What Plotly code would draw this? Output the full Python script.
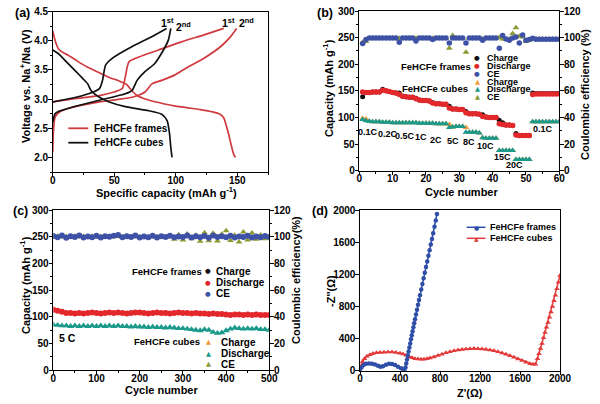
import plotly.graph_objects as go

# ---------------- (a) charge / discharge profiles ----------------
fr_dis_cap = [0, 2, 5, 10, 15, 20, 28, 38, 46, 54, 60, 64, 68, 74, 80, 90, 100, 110, 120, 130, 136, 139, 141, 143, 145, 147, 148.5]
fr_dis_v = [4.17, 4.0, 3.85, 3.78, 3.72, 3.65, 3.55, 3.45, 3.37, 3.31, 3.25, 3.15, 3.07, 3.01, 2.97, 2.92, 2.88, 2.85, 2.82, 2.78, 2.74, 2.68, 2.55, 2.4, 2.22, 2.06, 2.0]
fr_c1_cap = [0, 15, 38, 50, 56.6, 59, 62, 70, 86, 104.6, 123, 139]
fr_c1_v = [2.95, 3.0, 3.06, 3.12, 3.18, 3.38, 3.64, 3.72, 3.84, 3.98, 4.1, 4.21]
fr_c2_cap = [0, 0.6, 1.9, 5, 11, 25, 38, 52, 64.6, 75, 80.6, 88.6, 99, 110, 123, 136.6, 144.6, 149.5]
fr_c2_v = [2.09, 2.45, 2.69, 2.77, 2.83, 2.9, 2.95, 2.99, 3.03, 3.12, 3.26, 3.32, 3.41, 3.55, 3.7, 3.9, 4.07, 4.21]
cu_dis_cap = [0, 4.5, 11, 19, 24.5, 28.5, 31, 38, 46, 59, 78, 88.6, 93, 95, 96, 97]
cu_dis_v = [3.84, 3.78, 3.64, 3.47, 3.35, 3.26, 3.15, 3.03, 2.95, 2.87, 2.8, 2.74, 2.63, 2.4, 2.17, 2.0]
cu_c1_cap = [0, 24.5, 38, 40.5, 43, 48.6, 64.6, 78, 92.6]
cu_c1_v = [2.95, 3.06, 3.18, 3.32, 3.58, 3.7, 3.9, 4.04, 4.21]
cu_c2_cap = [0, 1.9, 5, 11, 25, 38, 50, 59, 64.6, 68.6, 75, 83, 90, 94, 96]
cu_c2_v = [2.6, 2.75, 2.79, 2.83, 2.91, 2.98, 3.04, 3.09, 3.15, 3.32, 3.47, 3.61, 3.84, 4.01, 4.21]

# ---------------- (b) rate capability ----------------
b_cycle = list(range(1, 61))
b_fr_dis = [148, 147, 147, 148, 148, 148,
            151, 150, 149, 147, 146,
            143, 140, 139, 138, 138,
            135, 133, 132, 132, 131,
            127, 126, 126, 125, 125,
            118, 116, 116, 115, 115,
            109, 107, 107, 107, 106,
            102, 101, 100, 100, 100,
            88, 87, 86, 86, 85,
            67, 66, 66, 66, 66,
            143, 144, 144, 144, 144, 144, 144, 144, 144]
b_fr_chg = [139, 147, 147, 148, 148, 148,
            153, 150, 149, 147, 146,
            146, 140, 139, 138, 138,
            136, 133, 132, 132, 131,
            128, 126, 126, 125, 125,
            121, 116, 116, 115, 115,
            111, 107, 107, 107, 106,
            105, 101, 100, 100, 100,
            95, 90, 86, 86, 85,
            70, 66, 66, 66, 66,
            146, 145, 145, 145, 145, 145, 145, 145, 145]
b_cu_dis = [96, 94, 93, 92, 92, 92,
            91, 91, 91, 90, 90,
            90, 90, 90, 90, 90,
            90, 89, 89, 89, 89,
            89, 88, 88, 88, 88,
            81, 82, 83, 83, 83,
            72, 72, 72, 72, 71,
            62, 61, 61, 61, 61,
            38, 38, 38, 38, 38,
            21, 21, 21, 21, 21,
            92, 92, 92, 92, 92, 92, 92, 92, 92]
b_cu_chg = [98, 97, 93, 92, 92, 92,
            91, 91, 91, 90, 90,
            90, 90, 90, 90, 90,
            90, 89, 89, 89, 89,
            89, 88, 88, 88, 88,
            87, 82, 83, 83, 83,
            81, 72, 72, 72, 71,
            62, 61, 61, 61, 61,
            38, 38, 38, 38, 38,
            21, 21, 21, 21, 21,
            92, 92, 92, 92, 92, 92, 92, 92, 92]
b_fr_ce = [95.5, 98.5, 99.8, 99.8, 99.8, 99.8, 99.8, 99.8, 99.8, 99.8,
           99.8, 96.5, 99.8, 99.8, 99.8, 99.8, 97.5, 99.8, 99.8, 99.8,
           99.8, 98.5, 99.8, 99.8, 99.8, 99.8, 96.0, 99.8, 99.8, 99.8,
           99.8, 96.0, 99.8, 99.8, 99.8, 99.8, 98.0, 99.8, 99.8, 99.8,
           99.8, 92.0, 101.5, 99.0, 98.0, 99.8, 100.5, 96.0, 102.0, 98.0,
           98.5, 99.5, 98.8, 98.8, 98.8, 98.8, 98.8, 98.8, 98.8, 98.8]
b_cu_ce = [96.5, 97.0, 99.6, 99.6, 99.6, 99.6, 99.6, 99.6, 99.6, 99.6,
           99.6, 99.6, 99.6, 99.6, 99.6, 99.6, 99.6, 99.6, 99.6, 99.6,
           99.6, 99.6, 99.6, 99.6, 99.6, 99.6, 92.0, 101.5, 99.6, 99.6,
           99.6, 89.0, 99.6, 99.6, 99.6, 99.6, 99.0, 99.6, 99.6, 99.6,
           99.6, 100.0, 99.0, 98.5, 99.0, 103.0, 107.5, 101.0, 100.5, 97.0,
           98.0, 99.0, 99.0, 99.0, 99.0, 99.0, 99.0, 99.0, 99.0, 99.0]
rate_labels = ["0.1C", "0.2C", "0.5C", "1C", "2C", "5C", "8C", "10C", "15C", "20C", "0.1C"]
rate_x = [2.6, 8.7, 13.7, 18.4, 23, 28, 33, 38, 43, 46.5, 55.2]
rate_y = [73, 69, 66, 63, 58, 56, 53, 47, 26, 10, 78]

# ---------------- (c) long cycling at 5 C ----------------
c_cycle = list(range(0, 501, 10))
c_fr_dis = [113, 111, 109, 107, 107, 106, 107, 106, 107, 108,
            107, 106, 107, 108, 107, 108, 107, 106, 107, 108,
            108, 107, 106, 107, 108, 107, 107, 106, 107, 108,
            107, 107, 106, 107, 106, 106, 105, 106, 105, 105,
            104, 103, 104, 104, 103, 104, 103, 104, 103, 103,
            103]
c_cu_dis = [85, 84, 83, 83, 82, 83, 82, 83, 82, 83,
            82, 83, 82, 83, 82, 83, 82, 82, 81, 82,
            81, 81, 80, 81, 80, 80, 79, 80, 79, 78,
            78, 77, 76, 75, 74, 76, 75, 71, 69, 70,
            74, 77, 79, 78, 77, 78, 77, 78, 76, 76,
            75]
c_fr_ce = [100.5, 99.5, 100.8, 99.2, 100.3, 99.8, 100.9, 99.4, 100.2, 99.6,
           100.7, 99.3, 100.4, 99.9, 100.6, 101.2, 99.5, 100.3, 99.7, 100.8,
           99.4, 100.1, 99.6, 100.7, 99.3, 100.4, 99.8, 100.6, 99.5, 100.2,
           99.7, 100.9, 99.4, 100.3, 99.6, 100.5, 99.2, 100.8, 99.7, 100.4,
           99.5, 100.6, 99.3, 100.2, 99.8, 100.7, 99.4, 100.1, 99.6, 100.5,
           99.8]
c_cu_ce = [99.5, 100.3, 99.8, 100.1, 99.6, 100.4, 99.9, 100.2, 99.7, 100.3,
           99.8, 100.1, 99.6, 100.4, 99.9, 100.2, 99.5, 100.3, 99.8, 100.1,
           99.7, 100.2, 99.6, 100.4, 99.9, 100.0, 99.4, 100.6,
           98.0, 101.5, 97.5, 102.0, 98.5, 101.0, 96.5, 103.0, 97.0, 102.5,
           96.8, 101.8, 104.5, 97.2, 101.0, 96.0, 103.5, 97.5, 102.8, 98.0,
           101.2, 98.5, 99.5]

# ---------------- (d) Nyquist plots ----------------
d_fr_re = [0, 15, 35, 60, 90, 120, 150, 180, 205, 230, 260, 290, 320, 350, 380, 410, 430, 445, 455,
           462, 470, 478, 486, 494, 502, 510, 518, 526, 534, 542, 550, 560, 570, 580, 590, 600, 612,
           624, 636, 648, 660, 672, 684, 696, 708, 720, 732, 745, 758, 770]
d_fr_im = [0, 40, 70, 85, 90, 88, 78, 62, 50, 55, 75, 85, 82, 70, 50, 30, 15, 8, 40,
           90, 140, 190, 240, 290, 340, 390, 440, 490, 540, 590, 640, 700, 760, 820, 880, 940, 1010,
           1080, 1150, 1220, 1290, 1360, 1430, 1500, 1570, 1640, 1710, 1790, 1870, 1950]
d_cu_re = [0, 10, 25, 45, 70, 100, 130, 165, 200, 240, 280, 320, 360, 400, 430, 460, 490, 520, 550,
           580, 610, 640, 670, 700, 740, 780, 820, 860, 900, 940, 980, 1020, 1060, 1100, 1140, 1180,
           1220, 1260, 1300, 1340, 1380, 1420, 1460, 1500, 1540, 1580, 1620, 1660, 1700, 1730, 1755,
           1775, 1790, 1805, 1820, 1835, 1850, 1865, 1880, 1895, 1910, 1925, 1940, 1955, 1970, 1985, 2000]
d_cu_im = [0, 60, 110, 150, 180, 200, 213, 222, 228, 231, 233, 232, 228, 218, 207, 192, 175, 160, 150,
           145, 141, 142, 148, 158, 172, 190, 206, 222, 236, 248, 258, 265, 270, 273, 275, 274,
           271, 266, 258, 248, 236, 221, 204, 186, 166, 146, 126, 106, 88, 80, 80,
           150, 210, 275, 340, 410, 475, 540, 600, 665, 730, 800, 870, 940, 1020, 1100, 1185]

# ---------------- styling ----------------
FONT = "Liberation Sans"
SYM = "DejaVu Sans"
RED_A = "#cf3a3f"
BLACK = "#111111"
RED = "#e3282c"
BLUE = "#3d52a6"
ORANGE = "#f29a3a"
TEAL = "#1b9a8c"
OLIVE = "#8a9a33"
D_BLUE = "#2f4ea8"
D_RED = "#e33a3a"

W, H = 600, 404
def px(x):
    return x / W
def py(y):
    return 1 - y / H

fig = go.Figure()

# (a)
for cx, cy, col in [(fr_dis_cap, fr_dis_v, RED_A), (fr_c1_cap, fr_c1_v, RED_A), (fr_c2_cap, fr_c2_v, RED_A),
                    (cu_dis_cap, cu_dis_v, BLACK), (cu_c1_cap, cu_c1_v, BLACK), (cu_c2_cap, cu_c2_v, BLACK)]:
    fig.add_trace(go.Scatter(x=cx, y=cy, mode="lines", line=dict(color=col, width=1.7, shape="spline", smoothing=0.6),
                             xaxis="x", yaxis="y", showlegend=False, hoverinfo="skip"))

# (b)
fig.add_trace(go.Scatter(x=b_cycle, y=b_fr_chg, mode="markers", marker=dict(color=BLACK, size=5), xaxis="x2", yaxis="y2", showlegend=False))
fig.add_trace(go.Scatter(x=b_cycle, y=b_fr_dis, mode="markers", marker=dict(color=RED, size=5.5), xaxis="x2", yaxis="y2", showlegend=False))
fig.add_trace(go.Scatter(x=b_cycle, y=b_cu_chg, mode="markers", marker=dict(color=ORANGE, size=6, symbol="triangle-up"), xaxis="x2", yaxis="y2", showlegend=False))
fig.add_trace(go.Scatter(x=b_cycle, y=b_cu_dis, mode="markers", marker=dict(color=TEAL, size=6, symbol="triangle-up"), xaxis="x2", yaxis="y2", showlegend=False))
fig.add_trace(go.Scatter(x=b_cycle, y=b_cu_ce, mode="markers", marker=dict(color=OLIVE, size=6, symbol="triangle-up"), xaxis="x2", yaxis="y3", showlegend=False))
fig.add_trace(go.Scatter(x=b_cycle, y=b_fr_ce, mode="markers", marker=dict(color=BLUE, size=5.5), xaxis="x2", yaxis="y3", showlegend=False))

# (c)
fig.add_trace(go.Scatter(x=c_cycle, y=c_fr_dis, mode="markers", marker=dict(color=RED, size=6), xaxis="x3", yaxis="y4", showlegend=False))
fig.add_trace(go.Scatter(x=c_cycle, y=c_cu_dis, mode="markers", marker=dict(color=TEAL, size=6.5, symbol="triangle-up"), xaxis="x3", yaxis="y4", showlegend=False))
fig.add_trace(go.Scatter(x=c_cycle, y=c_cu_ce, mode="markers", marker=dict(color=OLIVE, size=6, symbol="triangle-up"), xaxis="x3", yaxis="y5", showlegend=False))
fig.add_trace(go.Scatter(x=c_cycle, y=c_fr_ce, mode="markers", marker=dict(color=BLUE, size=6), xaxis="x3", yaxis="y5", showlegend=False))

# (d)
fig.add_trace(go.Scatter(x=d_cu_re, y=d_cu_im, mode="lines+markers", line=dict(color=D_RED, width=1.5),
                         marker=dict(color=D_RED, size=5, symbol="triangle-up"), xaxis="x4", yaxis="y6", showlegend=False))
fig.add_trace(go.Scatter(x=d_fr_re, y=d_fr_im, mode="lines+markers", line=dict(color=D_BLUE, width=1.5),
                         marker=dict(color=D_BLUE, size=4.5), xaxis="x4", yaxis="y6", showlegend=False))

TICKF = dict(family=FONT, size=10, color="black", weight="bold")

def ax(**kw):
    d = dict(showline=True, linecolor="black", linewidth=1.2, ticks="outside", ticklen=3.5, tickwidth=1.1,
             tickcolor="black", showgrid=False, zeroline=False, automargin=False, tickfont=TICKF,
             fixedrange=True)
    d.update(kw)
    return d

def xax(**kw):
    return ax(ticklabelstandoff=-5, **kw)

def yax(**kw):
    return ax(ticklabelstandoff=-2, **kw)

def minor(dt):
    return dict(ticks="outside", ticklen=2, tickwidth=1, tickcolor="black", dtick=dt, showgrid=False)

fig.update_layout(
    width=W, height=H, margin=dict(l=0, r=0, t=0, b=0),
    paper_bgcolor="white", plot_bgcolor="white",
    font=dict(family=FONT, size=10, color="black", weight="bold"),
    showlegend=False,
    xaxis=xax(domain=[px(52.7), px(268)], anchor="y", range=[0, 175], tickvals=[0, 50, 100, 150], minor=minor(25), mirror=True),
    yaxis=yax(domain=[py(172), py(11.5)], anchor="x", range=[1.75, 4.5], tickvals=[2.0, 2.5, 3.0, 3.5, 4.0, 4.5],
              tickformat=".1f", minor=minor(0.25), mirror=True),
    xaxis2=xax(domain=[px(359.3), px(559.3)], anchor="y2", range=[0, 60], dtick=10, minor=minor(5), mirror=True),
    yaxis2=yax(domain=[py(170.7), py(11)], anchor="x2", range=[0, 300], dtick=50, minor=minor(25)),
    yaxis3=yax(overlaying="y2", anchor="x2", side="right", range=[0, 120], dtick=20, minor=minor(10)),
    xaxis3=xax(domain=[px(53.3), px(269.3)], anchor="y4", range=[0, 500], dtick=100, minor=minor(50), mirror=True),
    yaxis4=yax(domain=[py(370), py(210)], anchor="x3", range=[0, 300], dtick=50, minor=minor(25)),
    yaxis5=yax(overlaying="y4", anchor="x3", side="right", range=[0, 120], dtick=20, minor=minor(10)),
    xaxis4=xax(domain=[px(360), px(560)], anchor="y6", range=[0, 2000], tickvals=[0, 400, 800, 1200, 1600, 2000], mirror=True),
    yaxis6=yax(domain=[py(370.7), py(210)], anchor="x4", range=[0, 2000], tickvals=[0, 400, 800, 1200, 1600, 2000], mirror=True),
)

ann = []
def txt(x, y, s, size=11, xanchor="center", angle=0, color="black", family=FONT):
    ann.append(dict(x=px(x), y=py(y), xref="paper", yref="paper", text=s, showarrow=False, xanchor=xanchor,
                    yanchor="middle", textangle=angle,
                    font=dict(family=family, size=size, color=color, weight="bold")))

# panel labels
txt(22, 13, "(a)", 12.5)
txt(325, 13, "(b)", 12.5)
txt(20, 211, "(c)", 12.5)
txt(320, 211, "(d)", 12.5)

# axis titles
txt(166, 191.5, "Specific capacity (mAh g<sup>-1</sup>)", 11)
txt(25, 86, "Voltage vs. Na<sup>+</sup>/Na (V)", 11, angle=-90)
txt(461, 191.5, "Cycle number", 11)
txt(328, 88, "Capacity (mAh g<sup>-1</sup>)", 11, angle=-90)
txt(585, 95, "Coulombic efficiency (%)", 11, angle=-90)
txt(161, 389.5, "Cycle number", 11)
txt(25, 285, "Capacity (mAh g<sup>-1</sup>)", 11, angle=-90)
txt(296, 280, "Coulombic efficiency(%)", 11, angle=-90)
txt(470, 392.5, "Z'(Ω)", 11)
txt(331, 291, "-Z''(Ω)", 11, angle=-90)

# (a) cycle labels
for xv, yv, s in [(93.5, 4.31, "1<sup>st</sup>"), (106, 4.25, "2<sup>nd</sup>"),
                  (143, 4.31, "1<sup>st</sup>"), (157.5, 4.31, "2<sup>nd</sup>")]:
    ann.append(dict(x=xv, y=yv, xref="x", yref="y", text=s, showarrow=False,
                    font=dict(family=FONT, size=10.5, color="black", weight="bold")))

# (a) legend
shapes = []
def hline(x0, x1, y, col, w=1.8):
    shapes.append(dict(type="line", xref="paper", yref="paper", x0=px(x0), x1=px(x1), y0=py(y), y1=py(y),
                       line=dict(color=col, width=w)))
hline(68.3, 88.3, 128.3, RED_A)
hline(68.3, 88.3, 142.7, BLACK)
txt(91.7, 128.3, "FeHCFe frames", 10, xanchor="left")
txt(91.7, 142.7, "FeHCFe cubes", 10, xanchor="left")

# (b) rate labels
for s, xv, yv in zip(rate_labels, rate_x, rate_y):
    ann.append(dict(x=xv, y=yv, xref="x2", yref="y2", text=s, showarrow=False,
                    font=dict(family=FONT, size=9, color="black", weight="bold")))

# (b) legend
b_rows = [(57.5, "●", BLACK, "Charge"), (65.5, "●", RED, "Discharge"), (73.5, "●", BLUE, "CE"),
          (81.5, "▲", ORANGE, "Charge"), (89.5, "▲", TEAL, "Discharge"), (97, "▲", OLIVE, "CE")]
for yv, sym, col, lab in b_rows:
    txt(477, yv, sym, 6.5, color=col, family=SYM)
    txt(484.5, yv, lab, 9, xanchor="left")
txt(473, 66, "FeHCFe frames", 9.5, xanchor="right")
txt(470, 89, "FeHCFe cubes", 9.5, xanchor="right")

# (c) legend
c_rows_f = [(271, BLACK, "Charge"), (282.5, RED, "Discharge"), (293.5, BLUE, "CE")]
for yv, col, lab in c_rows_f:
    txt(207.5, yv, "●", 6.5, color=col, family=SYM)
    txt(214.3, yv, lab, 10, xanchor="left")
txt(130, 271, "FeHCFe frames", 9.5, xanchor="left")
c_rows_c = [(342, ORANGE, "Charge"), (353.5, TEAL, "Discharge"), (364, OLIVE, "CE")]
for yv, col, lab in c_rows_c:
    txt(208.5, yv, "▲", 6.5, color=col, family=SYM)
    txt(219, yv, lab, 10, xanchor="left")
txt(131.5, 341, "FeHCFe cubes", 9.5, xanchor="left")
txt(67, 337.5, "5 C", 10.5)

# (d) legend
hline(466.7, 485.5, 227.3, D_BLUE, 1.5)
hline(466.7, 485.5, 238.3, D_RED, 1.5)
txt(476, 227.3, "●", 6, color=D_BLUE, family=SYM)
txt(476, 238.0, "▲", 6, color=D_RED, family=SYM)
txt(488, 227.3, "FeHCFe frames", 9, xanchor="left")
txt(488, 238.3, "FeHCFe cubes", 9, xanchor="left")

fig.update_layout(annotations=ann, shapes=shapes)
fig.write_html("out.html")
